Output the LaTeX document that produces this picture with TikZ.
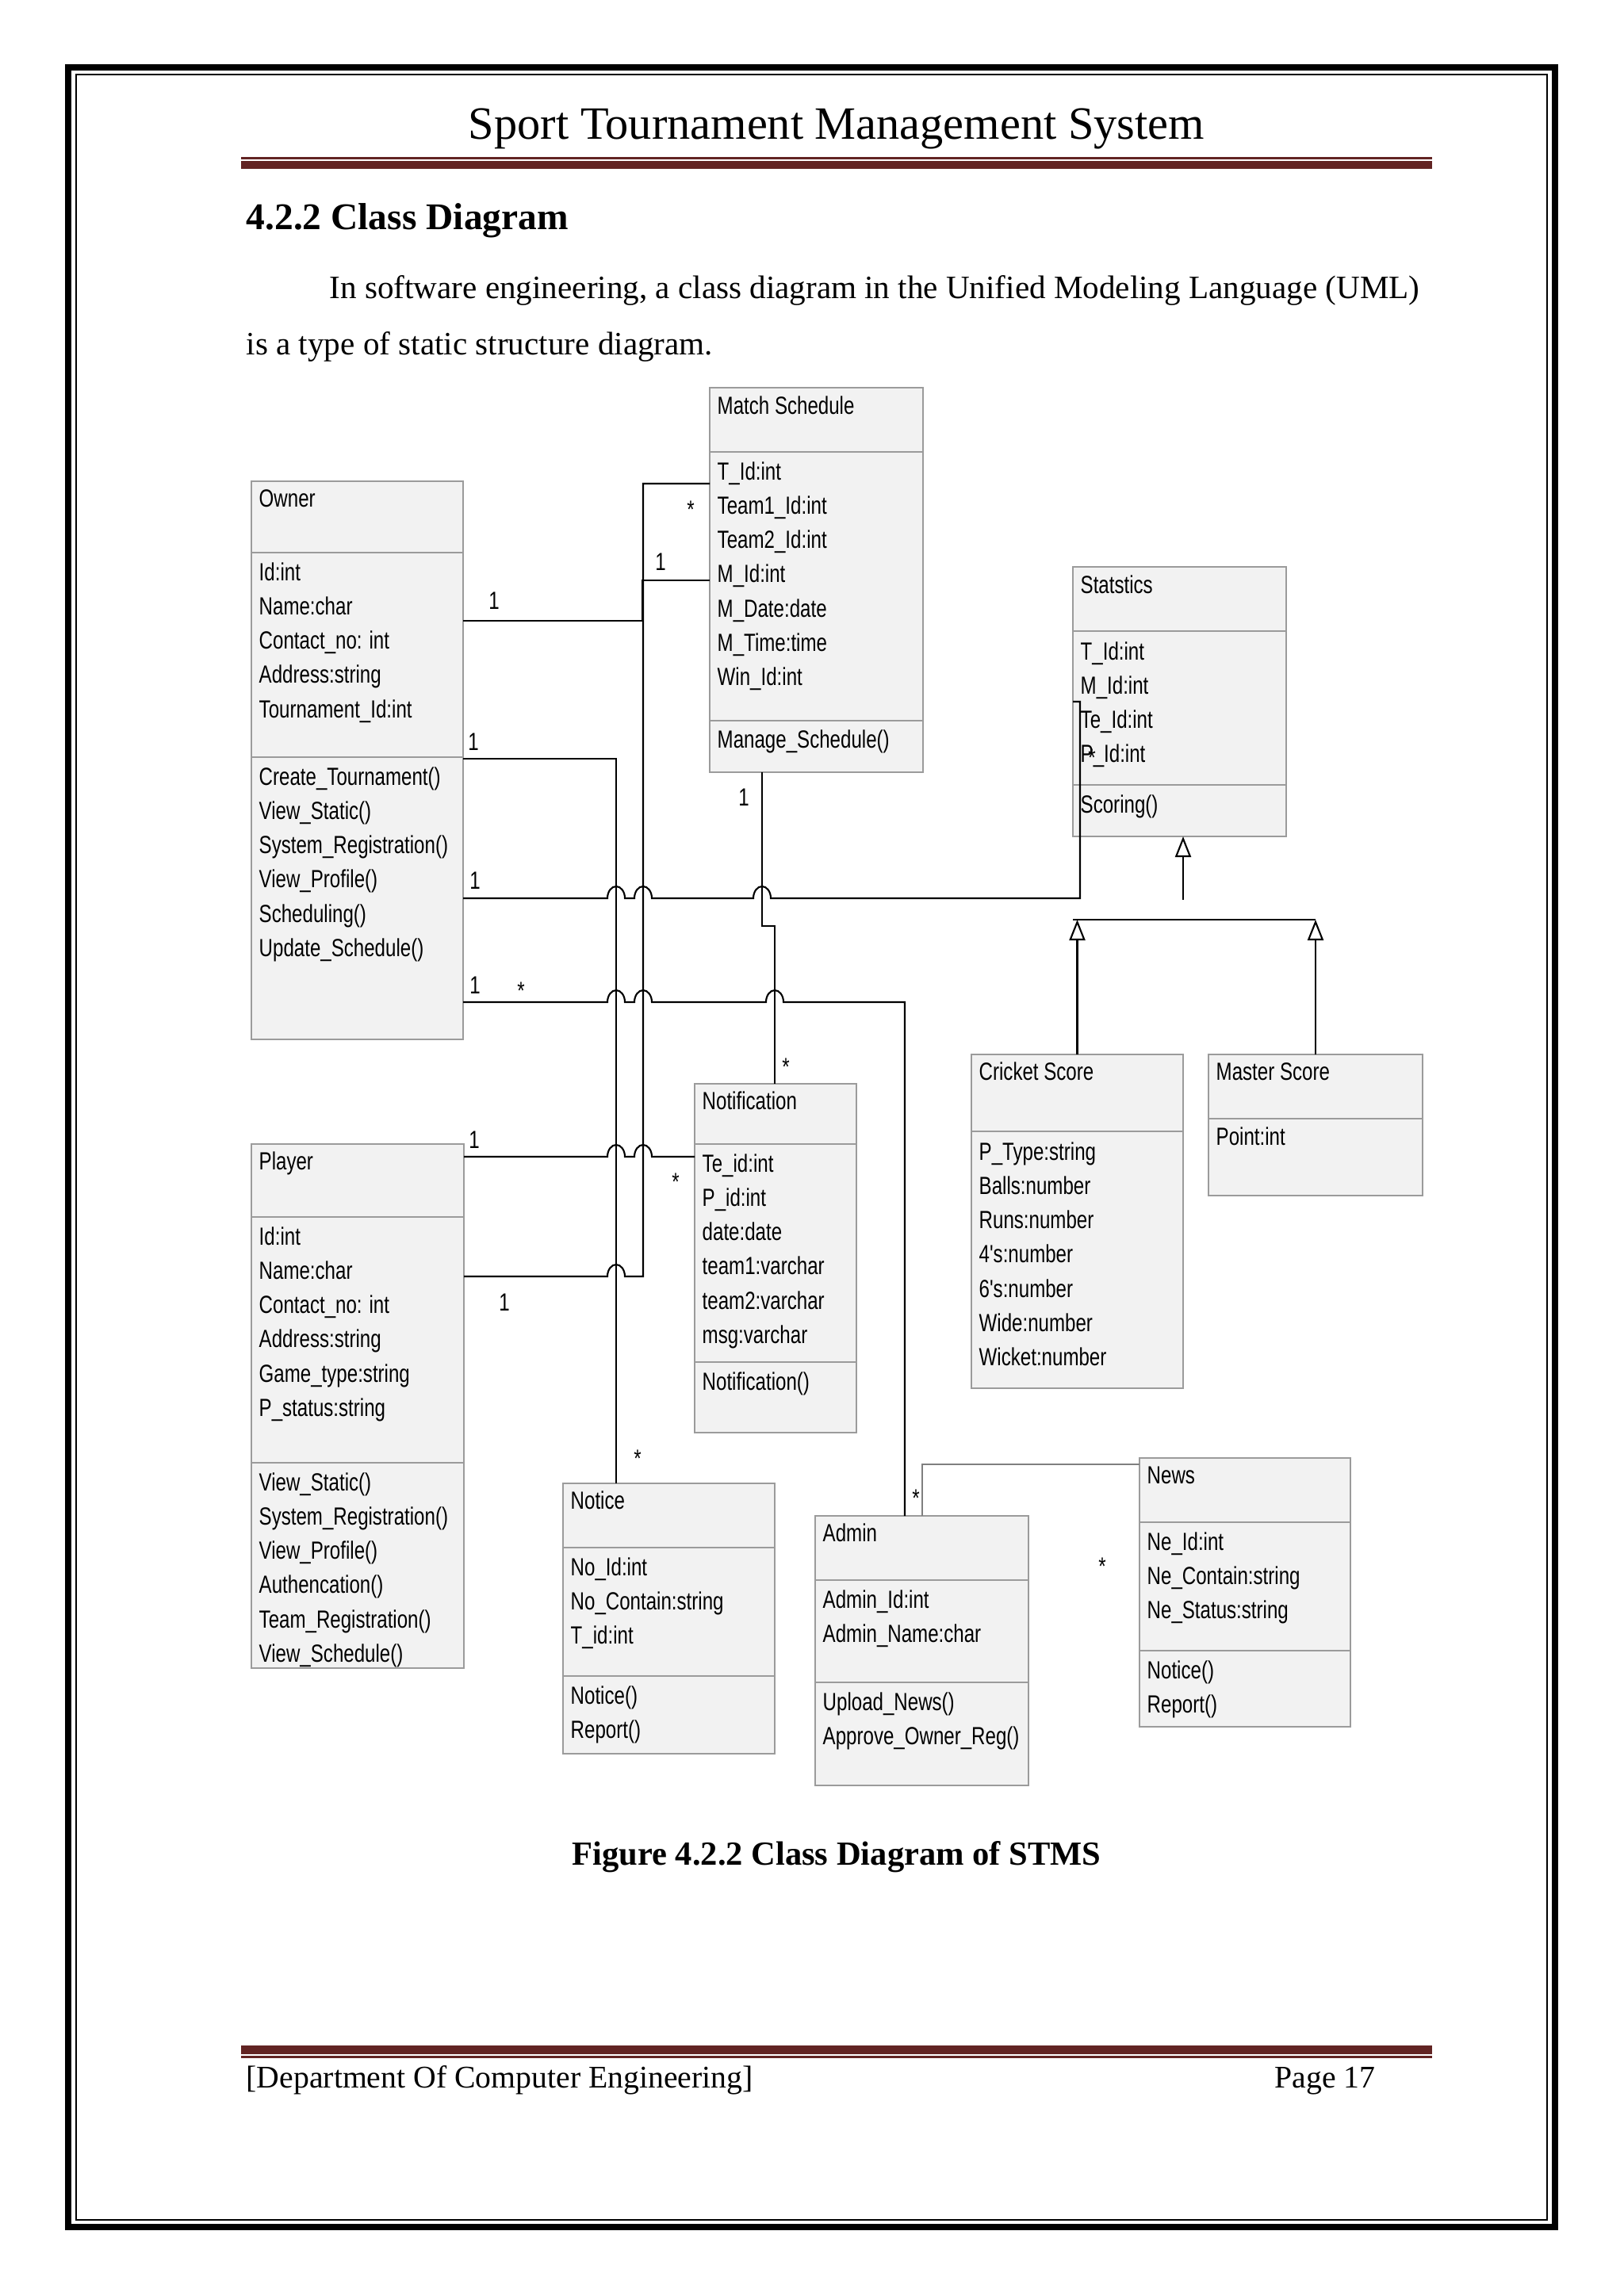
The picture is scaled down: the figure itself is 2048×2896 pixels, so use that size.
\documentclass[tikz,border=0pt]{standalone}
\usepackage{fontspec}
\setmainfont{Liberation Serif}
\newfontfamily\umlfont[FakeStretch=0.77]{Liberation Sans}
\newfontfamily\calfont{Liberation Serif}
\usetikzlibrary{fit,arrows.meta}
\definecolor{boxfill}{HTML}{F2F2F2}
\definecolor{boxgray}{HTML}{9B9B9B}
\definecolor{maroon}{HTML}{622423}
\definecolor{lineg}{HTML}{7F7F7F}
\def\hx{3.13pt}
\def\hy{4.27pt}
\tikzset{
  umlbox/.style={draw=boxgray, fill=boxfill, line width=0.7pt, inner sep=0pt, outer sep=0pt},
  boxdiv/.style={draw=boxgray, line width=0.7pt},
  utext/.style={anchor=base west, inner sep=0pt, font=\umlfont\fontsize{8.9pt}{10pt}\selectfont},
  mult/.style={anchor=base, inner sep=0pt, font=\umlfont\fontsize{8.9pt}{10pt}\selectfont},
  conn/.style={draw=black, line width=0.6pt},
  conng/.style={draw=lineg, line width=0.6pt},
  gen/.style={conn, -{Triangle[open, length=7.4pt, width=5.7pt]}},
}
\newcommand{\umlclass}[7]{%
  \node[umlbox, fit={(#2,#3) (#4,#5)}] (#1) {};
  \draw[boxdiv] (#2,#6) -- (#4,#6);
  \draw[boxdiv] (#2,#7) -- (#4,#7);
}
\newcommand{\umltext}[4]{%
  \foreach \t [count=\i from 0] in {#4} {\node[utext] (#1\i) at (#2,{#3+43.3*\i}) {\t};}
}
\begin{document}
\begin{tikzpicture}[x=0.01cm,y=-0.01cm]
\useasboundingbox (0,0) rectangle (2048,2896);
\fill[white] (0,0) rectangle (2048,2896);
% page frame
\draw[line width=2.2pt] (86,85) rectangle (1961,2809);
\draw[line width=0.6pt] (96,94) rectangle (1951,2800);
% header
\node[anchor=base, inner sep=0pt, font=\calfont\fontsize{16.6pt}{19pt}\selectfont] (title) at (1055,175) {Sport Tournament Management System};
\fill[maroon] (304,197.5) rectangle (1806,200.5);
\fill[maroon] (304,203) rectangle (1806,213);
\node[anchor=base west, inner sep=0pt, font=\bfseries\fontsize{13.5pt}{16pt}\selectfont] (heading) at (310,289) {4.2.2 Class Diagram};
\node[anchor=base west, inner sep=0pt, font=\fontsize{11.7pt}{14pt}\selectfont] (para1) at (415,376) {\makebox[13.74cm][s]{In software engineering, a class diagram in the Unified Modeling Language (UML)}};
\node[anchor=base west, inner sep=0pt, font=\fontsize{11.7pt}{14pt}\selectfont] (para2) at (310,447) {is a type of static structure diagram.};
% classes
\umlclass{match}{895}{489}{1164}{974}{570}{909}
\umltext{mt}{904}{522}{Match Schedule}
\umltext{ma}{904}{605}{T\_Id:int, Team1\_Id:int, Team2\_Id:int, M\_Id:int, M\_Date:date, M\_Time:time, Win\_Id:int}
\umltext{mm}{904}{943}{Manage\_Schedule()}

\umlclass{owner}{317}{607}{584}{1311}{697}{955}
\umltext{ot}{326}{639}{Owner}
\umltext{oa}{326}{732}{Id:int, Name:char, Contact\_no: int, Address:string, Tournament\_Id:int}
\umltext{om}{326}{990}{Create\_Tournament(), View\_Static(), System\_Registration(), View\_Profile(), Scheduling(), Update\_Schedule()}

\umlclass{stat}{1353}{715}{1622}{1055}{796}{990}
\umltext{st}{1362}{748}{Statstics}
\umltext{sa}{1362}{832}{T\_Id:int, M\_Id:int, Te\_Id:int, P\_Id:int}
\umltext{sm}{1362}{1025}{Scoring()}

\umlclass{cricket}{1225}{1330}{1492}{1751}{1427}{1427}
\umltext{ct}{1234}{1362}{Cricket Score}
\umltext{ca}{1234}{1463}{P\_Type:string, Balls:number, Runs:number, 4's:number, 6's:number, Wide:number, Wicket:number}

\umlclass{master}{1524}{1330}{1794}{1508}{1411}{1411}
\umltext{mst}{1533}{1362}{Master Score}
\umltext{msa}{1533}{1444}{Point:int}

\umlclass{player}{317}{1443}{585}{2104}{1535}{1845}
\umltext{pt}{326}{1475}{Player}
\umltext{pa}{326}{1570}{Id:int, Name:char, Contact\_no: int, Address:string, Game\_type:string, P\_status:string}
\umltext{pm}{326}{1880}{View\_Static(), System\_Registration(), View\_Profile(), Authencation(), Team\_Registration(), View\_Schedule()}

\umlclass{notif}{876}{1367}{1080}{1807}{1443}{1718}
\umltext{nt}{885}{1399}{Notification}
\umltext{na}{885}{1478}{Te\_id:int, P\_id:int, date:date, team1:varchar, team2:varchar, msg:varchar}
\umltext{nm}{885}{1753}{Notification()}

\umlclass{notice}{710}{1871}{977}{2212}{1952}{2114}
\umltext{ntt}{719}{1903}{Notice}
\umltext{nta}{719}{1987}{No\_Id:int, No\_Contain:string, T\_id:int}
\umltext{ntm}{719}{2149}{Notice(), Report()}

\umlclass{admin}{1028}{1912}{1297}{2252}{1993}{2122}
\umltext{at}{1037}{1944}{Admin}
\umltext{aa}{1037}{2028}{Admin\_Id:int, Admin\_Name:char}
\umltext{am}{1037}{2157}{Upload\_News(), Approve\_Owner\_Reg()}

\umlclass{news}{1437}{1839}{1703}{2178}{1920}{2082}
\umltext{nwt}{1446}{1871}{News}
\umltext{nwa}{1446}{1955}{Ne\_Id:int, Ne\_Contain:string, Ne\_Status:string}
\umltext{nwm}{1446}{2117}{Notice(), Report()}

% connectors
\draw[conn] (owner.east |- 0,783) -- (810,783) -- (810,732) -- (match.west |- 0,732);
\draw[conn] (match.west |- 0,610) -- (811,610) -- (811,1610) -- (788,1610)
  arc[start angle=0, end angle=180, x radius=\hx, y radius=\hy] -- (player.east |- 0,1610);
\draw[conn] (owner.east |- 0,957) -- (777,957) -- (notice.north -| 777,0);
\draw[conn] (owner.east |- 0,1133) -- (766,1133)
  arc[start angle=180, end angle=0, x radius=\hx, y radius=\hy] -- (800,1133)
  arc[start angle=180, end angle=0, x radius=\hx, y radius=\hy] -- (950,1133)
  arc[start angle=180, end angle=0, x radius=\hx, y radius=\hy] -- (1362,1133) -- (1362,885) -- (stat.west |- 0,885);
\draw[conn] (match.south -| 961,0) -- (961,1168) -- (977,1168) -- (notif.north -| 977,0);
\draw[conn] (owner.east |- 0,1264) -- (766,1264)
  arc[start angle=180, end angle=0, x radius=\hx, y radius=\hy] -- (800,1264)
  arc[start angle=180, end angle=0, x radius=\hx, y radius=\hy] -- (966,1264)
  arc[start angle=180, end angle=0, x radius=\hx, y radius=\hy] -- (1141,1264) -- (admin.north -| 1141,0);
\draw[conn] (player.east |- 0,1459) -- (766,1459)
  arc[start angle=180, end angle=0, x radius=\hx, y radius=\hy] -- (800,1459)
  arc[start angle=180, end angle=0, x radius=\hx, y radius=\hy] -- (notif.west |- 0,1459);
\draw[conng] (admin.north -| 1163,0) -- (1163,1847) -- (news.west |- 0,1847);
% generalization
\coordinate (genstem) at (1492,1135);
\coordinate (barL) at (1353,1160);
\coordinate (barR) at (1659,1160);
\draw[gen] (genstem) -- (stat.south -| genstem);
\draw[conn] (barL) -- (barR);
\draw[gen] (cricket.north) -- (cricket.north |- barL);
\draw[gen] (master.north) -- (master.north |- barR);
% multiplicities
\node[mult] (m1) at (623,768) {1};
\node[mult] (m2) at (833,719) {1};
\node[mult] (m3) at (871,653) {*};
\node[mult] (m4) at (636,1653) {1};
\node[mult] (m5) at (597,946) {1};
\node[mult] (m6) at (804,1850) {*};
\node[mult] (m7) at (599,1121) {1};
\node[mult] (m8) at (1377,966) {*};
\node[mult] (m9) at (938,1016) {1};
\node[mult] (m10) at (991,1356) {*};
\node[mult] (m11) at (599,1253) {1};
\node[mult] (m12) at (657,1260) {*};
\node[mult] (m13) at (1155,1900) {*};
\node[mult] (m14) at (598,1448) {1};
\node[mult] (m15) at (852,1501) {*};
\node[mult] (m16) at (1390,1986) {*};
% caption
\node[anchor=base, inner sep=0pt, font=\bfseries\fontsize{12.1pt}{14pt}\selectfont] (caption) at (1055,2352) {Figure 4.2.2 Class Diagram of STMS};
% footer
\fill[maroon] (304,2580) rectangle (1806,2591);
\fill[maroon] (304,2593) rectangle (1806,2596);
\node[anchor=base west, inner sep=0pt, font=\calfont\fontsize{11.3pt}{13pt}\selectfont] (dept) at (310,2633) {[Department Of Computer Engineering]};
\node[anchor=base west, inner sep=0pt, font=\calfont\fontsize{11.3pt}{13pt}\selectfont] (page) at (1607,2633) {Page 17};
\end{tikzpicture}
\end{document}
